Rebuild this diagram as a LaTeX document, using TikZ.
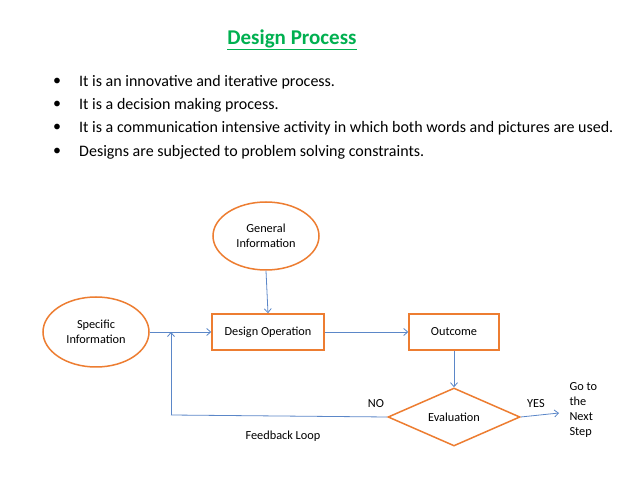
\documentclass[tikz,border=0pt]{standalone}
\usepackage{fontspec}
\setmainfont{Carlito}
\usetikzlibrary{shapes.geometric,arrows.meta}
\definecolor{og}{RGB}{237,125,49}
\definecolor{bl}{RGB}{91,135,200}
\definecolor{gr}{RGB}{0,176,80}
\begin{document}
\begin{tikzpicture}[x=1pt,y=-1pt,
  sh/.style={draw=og,line width=1.5pt,align=center,font=\fontsize{12.3}{15}\selectfont,inner sep=0pt},
  ar/.style={draw=bl,line width=0.8pt,-{Straight Barb[length=4pt,width=7pt]}},
  ln/.style={draw=bl,line width=0.8pt},
  lb/.style={font=\fontsize{12.3}{15}\selectfont,align=left}]
\useasboundingbox (0,0) rectangle (638,478);
\fill[white] (0,0) rectangle (638,478);
\node (title) at (292,40) {\fontsize{21}{25}\selectfont\bfseries\color{gr}\underline{Design Process}};
\foreach \y/\t [count=\i] in {82/{It is an innovative and iterative process.},105/{It is a decision making process.},128/{It is a communication intensive activity in which both words and pictures are used.},152/{Designs are subjected to problem solving constraints.}}{
  \node (b\i) at (57,\y) {\fontsize{16}{19}\selectfont\textbullet};
  \node[anchor=west,inner sep=0pt] (t\i) at (79,\y) {\fontsize{16}{19}\selectfont \t};
}
\node[sh,ellipse,minimum width=106pt,minimum height=68pt] (gen) at (266,236) {General\\Information};
\node[sh,ellipse,minimum width=106pt,minimum height=70pt] (spec) at (96,332) {Specific\\Information};
\node[sh,rectangle,minimum width=112pt,minimum height=36pt] (dop) at (268,332) {Design Operation};
\node[sh,rectangle,minimum width=90pt,minimum height=36pt] (out) at (454,332) {Outcome};
\node[sh,diamond,minimum width=132pt,minimum height=58pt,aspect=2.3] (ev) at (454,417) {Evaluation};
\coordinate (fb) at (171,332);
\coordinate (fbc) at (171,415);
\coordinate (go) at (559,413);
\draw[ar] (gen.south) -- (dop.north);
\draw[ar] (spec.east) -- (dop.west);
\draw[ar] (dop.east) -- (out.west);
\draw[ar] (out.south) -- (ev.north);
\draw[ln] (ev.west) -- (fbc);
\draw[ar] (fbc) -- (fb);
\draw[ar] (ev.east) -- (go);
\node[lb] (no) at (376,404) {NO};
\node[lb] (yes) at (536,404) {YES};
\node[lb] (fl) at (283,436) {Feedback Loop};
\node[lb,anchor=west,font=\fontsize{12.3}{15}\selectfont] (next) at (566,410) {Go to\\the\\Next\\Step};
\end{tikzpicture}
\end{document}
